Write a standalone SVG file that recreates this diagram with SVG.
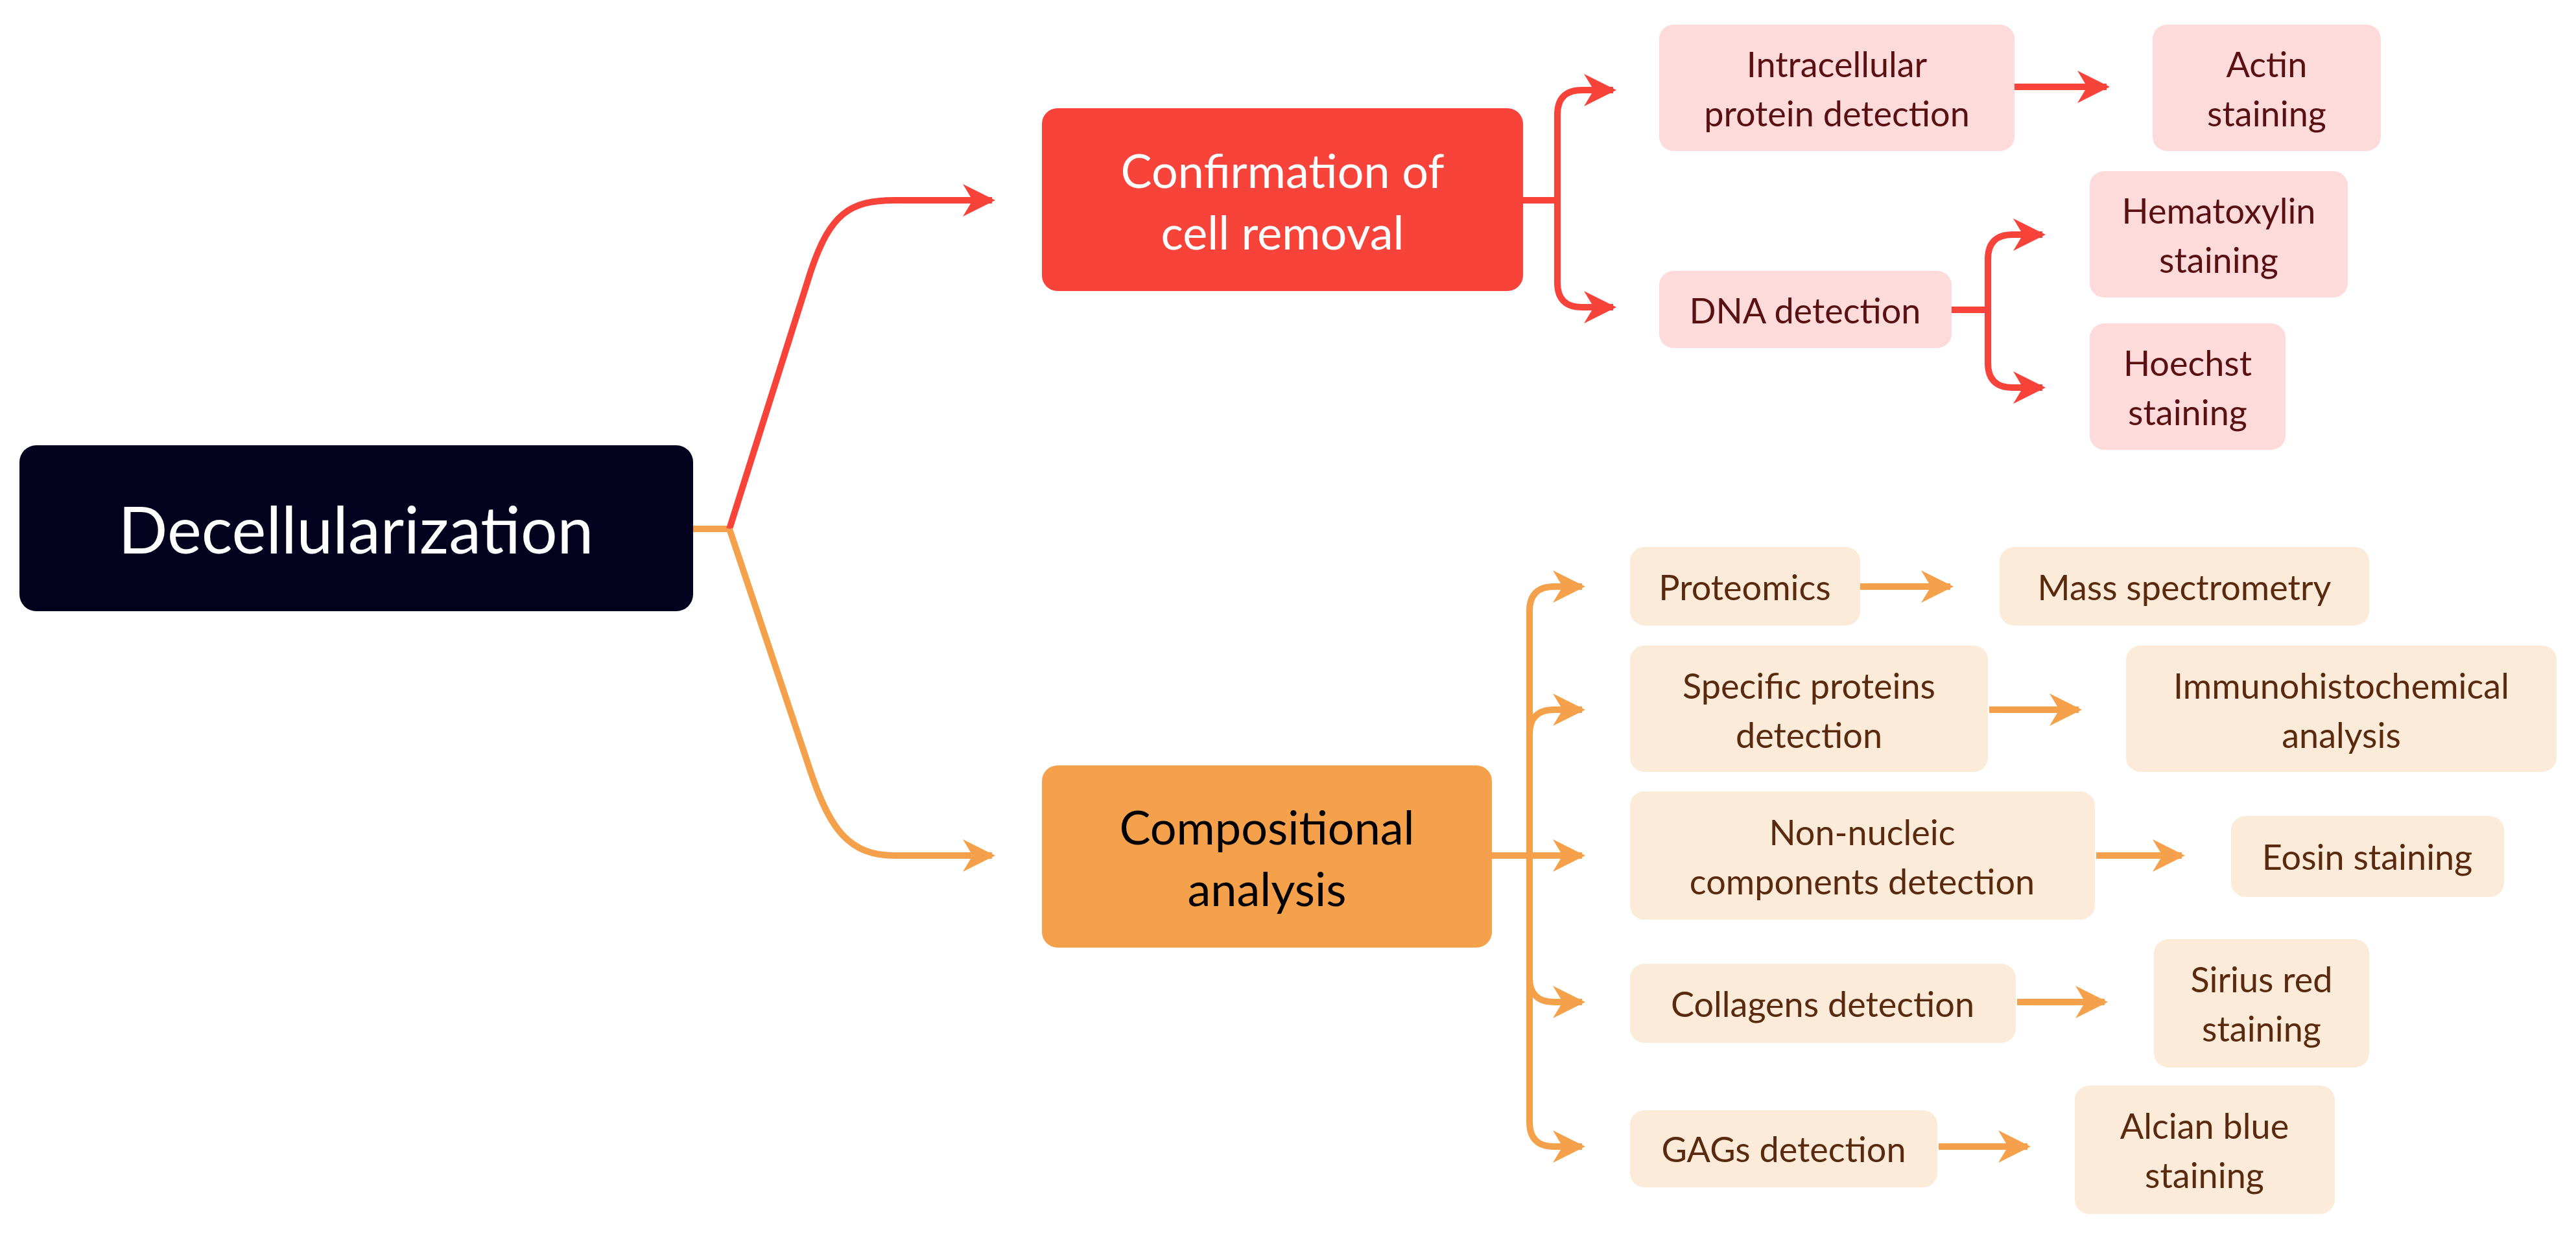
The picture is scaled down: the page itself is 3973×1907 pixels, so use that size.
<svg xmlns="http://www.w3.org/2000/svg" width="3973" height="1907" viewBox="0 0 3973 1907">
<style>
text{font-family:Lato,"Open Sans","Liberation Sans",sans-serif;text-anchor:middle;dominant-baseline:central}
.r{stroke:#F7433A;stroke-width:10;fill:none}
.o{stroke:#F5A04B;stroke-width:10;fill:none}
.pk{fill:#FDDBDA}.pe{fill:#FDEBD9}
.tr{fill:#5A0F12;font-size:54px}.to{fill:#5A2A0F;font-size:54px}
</style>
<defs>
<marker id="ar" viewBox="0 0 10 10" refX="9" refY="5" markerWidth="5" markerHeight="5" markerUnits="strokeWidth" orient="auto"><path d="M0,0 L10,5 L0,10 L3,5 Z" fill="#F7433A"/></marker>
<marker id="ao" viewBox="0 0 10 10" refX="9" refY="5" markerWidth="5" markerHeight="5" markerUnits="strokeWidth" orient="auto"><path d="M0,0 L10,5 L0,10 L3,5 Z" fill="#F5A04B"/></marker>
</defs>
<rect width="3973" height="1907" fill="#fff"/>
<g id="connectors">
<path class="o" d="M1069,816 H1125"/>
<path class="r" d="M1125,816 L1250,420 C1280,330 1310,309 1380,309 H1530" marker-end="url(#ar)"/>
<path class="o" d="M1125,816 L1250,1190 C1280,1280 1310,1320 1380,1320 H1530" marker-end="url(#ao)"/>
<path class="r" d="M2349,309 H2402"/>
<path class="r" d="M2488,139 H2440 Q2402,139 2402,177 V436 Q2402,474 2440,474 H2488" marker-end="url(#ar)"/>
<path class="r" d="M2440,139 H2488" marker-end="url(#ar)"/>
<path class="r" d="M3107,134 H3249" marker-end="url(#ar)"/>
<path class="r" d="M3010,478 H3066"/>
<path class="r" d="M3150,362 H3104 Q3066,362 3066,400 V560 Q3066,598 3104,598 H3150" marker-end="url(#ar)"/>
<path class="r" d="M3104,362 H3150" marker-end="url(#ar)"/>
<path class="o" d="M2301,1320 H2440" marker-end="url(#ao)"/>
<path class="o" d="M2440,905 H2397 Q2359,905 2359,943 V1731 Q2359,1769 2397,1769 H2440" marker-end="url(#ao)"/>
<path class="o" d="M2397,905 H2440" marker-end="url(#ao)"/>
<path class="o" d="M2359,1133 Q2359,1095 2397,1095 H2440" marker-end="url(#ao)"/>
<path class="o" d="M2359,1508 Q2359,1546 2397,1546 H2440" marker-end="url(#ao)"/>
<path class="o" d="M2869,905 H3008" marker-end="url(#ao)"/>
<path class="o" d="M3068,1095 H3206" marker-end="url(#ao)"/>
<path class="o" d="M3233,1320 H3365" marker-end="url(#ao)"/>
<path class="o" d="M3111,1546 H3246" marker-end="url(#ao)"/>
<path class="o" d="M2990,1769 H3127" marker-end="url(#ao)"/>
</g>
<g id="decell"><rect x="30" y="687" width="1039" height="256" rx="26" fill="#02021F"/><text x="549" y="815" fill="#fff" font-size="100">Decellularization</text></g>
<g id="confirm"><rect x="1607" y="167" width="742" height="282" rx="24" fill="#F7433A"/><text x="1978" y="262" fill="#fff" font-size="72">Confirmation of</text><text x="1978" y="357" fill="#fff" font-size="72">cell removal</text></g>
<g id="compo"><rect x="1607" y="1181" width="694" height="281" rx="24" fill="#F5A04B"/><text x="1954" y="1275" fill="#000" font-size="72">Compositional</text><text x="1954" y="1370" fill="#000" font-size="72">analysis</text></g>
<g id="intra"><rect class="pk" x="2559" y="38" width="548" height="195" rx="22"/><text class="tr" x="2833" y="98">Intracellular</text><text class="tr" x="2833" y="174">protein detection</text></g>
<g id="actin"><rect class="pk" x="3320" y="38" width="352" height="195" rx="22"/><text class="tr" x="3496" y="98">Actin</text><text class="tr" x="3496" y="174">staining</text></g>
<g id="dna"><rect class="pk" x="2559" y="418" width="451" height="119" rx="22"/><text class="tr" x="2784" y="478">DNA detection</text></g>
<g id="hema"><rect class="pk" x="3223" y="264" width="398" height="195" rx="22"/><text class="tr" x="3422" y="324">Hematoxylin</text><text class="tr" x="3422" y="400">staining</text></g>
<g id="hoechst"><rect class="pk" x="3223" y="499" width="302" height="195" rx="22"/><text class="tr" x="3374" y="559">Hoechst</text><text class="tr" x="3374" y="635">staining</text></g>
<g id="proteomics"><rect class="pe" x="2514" y="844" width="355" height="121" rx="22"/><text class="to" x="2691" y="905">Proteomics</text></g>
<g id="mass"><rect class="pe" x="3084" y="844" width="570" height="121" rx="22"/><text class="to" x="3369" y="905">Mass spectrometry</text></g>
<g id="specific"><rect class="pe" x="2514" y="996" width="552" height="195" rx="22"/><text class="to" x="2790" y="1057">Specific proteins</text><text class="to" x="2790" y="1133">detection</text></g>
<g id="immuno"><rect class="pe" x="3279" y="996" width="664" height="195" rx="22"/><text class="to" x="3611" y="1057">Immunohistochemical</text><text class="to" x="3611" y="1133">analysis</text></g>
<g id="nonnucleic"><rect class="pe" x="2514" y="1221" width="717" height="198" rx="22"/><text class="to" x="2872" y="1283">Non-nucleic</text><text class="to" x="2872" y="1359">components detection</text></g>
<g id="eosin"><rect class="pe" x="3441" y="1259" width="421" height="125" rx="22"/><text class="to" x="3651" y="1321">Eosin staining</text></g>
<g id="collagens"><rect class="pe" x="2514" y="1487" width="595" height="122" rx="22"/><text class="to" x="2811" y="1548">Collagens detection</text></g>
<g id="sirius"><rect class="pe" x="3322" y="1449" width="332" height="198" rx="22"/><text class="to" x="3488" y="1510">Sirius red</text><text class="to" x="3488" y="1586">staining</text></g>
<g id="gags"><rect class="pe" x="2514" y="1713" width="474" height="119" rx="22"/><text class="to" x="2751" y="1772">GAGs detection</text></g>
<g id="alcian"><rect class="pe" x="3200" y="1675" width="401" height="198" rx="22"/><text class="to" x="3400" y="1736">Alcian blue</text><text class="to" x="3400" y="1812">staining</text></g>
</svg>
